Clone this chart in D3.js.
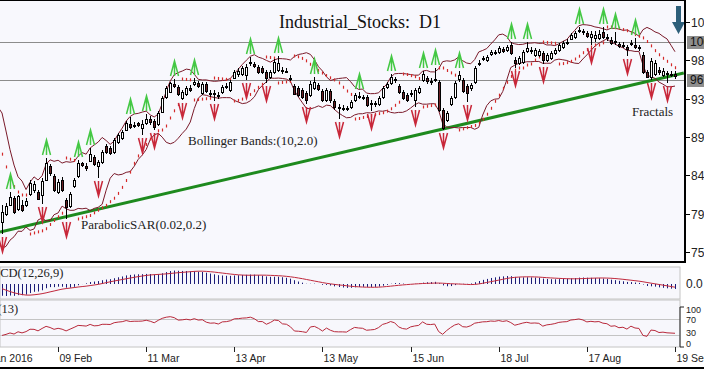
<!DOCTYPE html>
<html><head><meta charset="utf-8">
<script src="https://cdn.jsdelivr.net/npm/d3@7"></script>
<style>
html,body{margin:0;padding:0;background:#fff;overflow:hidden}
svg{display:block}
</style></head><body>
<svg id="c" width="704" height="370"></svg>
<script>
// ---------- DATA ----------
// pre-history bars (early Jan 2016), only used to warm up the indicators
const priorOpen  = [88.50,92.10,90.90,89.58,87.54,85.74,83.22,83.70,81.54,79.74];
const priorHigh  = [89.00,92.58,91.38,89.94,88.02,86.34,84.90,84.18,82.02,80.34];
const priorLow   = [87.60,90.18,88.74,86.94,85.14,82.50,82.14,80.58,78.90,78.06];
const priorClose = [88.00,90.54,89.34,87.30,85.74,82.98,83.94,81.18,79.38,78.18];

// visible daily bars, 20 Jan 2016 (bar 0) .. 19 Sep 2016 (bar 168)
const open = [78.90,79.86,80.94,81.78,80.46,80.94,80.94,82.26,82.74,82.50,
82.14,83.94,85.62,84.42,82.50,83.94,81.54,80.82,83.22,84.42,
85.98,85.62,86.22,86.70,85.62,86.10,88.02,87.78,87.30,88.50,
88.98,89.94,90.66,90.42,90.78,90.18,90.78,91.26,91.02,90.66,
92.10,93.90,94.50,95.46,95.10,93.78,94.26,94.98,95.46,95.58,
94.38,95.46,94.38,94.26,94.14,94.50,95.10,94.74,96.18,96.66,
96.66,96.54,98.10,97.86,97.50,97.38,96.90,96.30,96.90,97.14,
97.14,97.02,96.18,95.22,94.98,94.74,94.38,94.14,94.98,95.34,
94.62,93.54,94.62,93.42,92.70,92.46,92.58,92.70,93.54,94.02,
93.90,93.90,93.18,93.06,93.06,93.90,95.10,95.58,96.06,95.22,
94.50,94.14,94.26,93.54,94.50,95.94,96.18,95.82,96.06,95.70,
92.34,91.14,93.06,93.90,96.06,95.94,95.22,94.98,95.70,97.86,
98.46,98.34,99.06,99.30,99.30,99.66,99.54,100.14,98.34,97.98,
98.10,99.42,99.54,98.94,98.94,99.18,98.34,98.58,99.18,99.54,
99.90,100.38,100.86,101.10,101.82,101.82,101.58,101.10,100.98,100.98,
101.70,101.10,100.74,100.62,100.26,100.02,99.90,100.26,100.14,99.90,
98.94,96.90,96.30,96.66,97.14,96.54,96.78,96.66,96.66];
const high = [80.94,81.18,82.50,82.02,82.14,81.54,81.78,83.94,83.82,82.74,
84.18,86.58,85.86,84.66,84.06,84.30,81.78,82.50,84.18,86.34,
86.10,85.98,87.78,86.94,86.34,87.54,88.26,88.02,88.98,89.58,
89.94,91.02,91.50,90.90,90.90,91.14,91.86,91.62,91.26,92.22,
94.02,95.22,95.70,96.06,95.34,94.74,95.22,95.34,96.18,95.82,
95.70,95.70,94.74,94.74,94.50,95.34,95.58,95.94,97.14,97.38,
97.62,97.86,98.70,98.10,97.74,97.62,97.14,97.14,98.46,98.82,
97.50,97.38,96.54,95.46,95.22,94.98,94.62,95.82,96.30,95.58,
94.86,94.98,94.86,93.66,93.06,92.94,92.82,93.54,94.38,94.50,
94.14,94.14,93.54,93.42,94.02,95.22,95.70,96.66,96.30,95.46,
94.74,94.38,94.74,94.98,95.22,97.02,96.42,96.18,97.38,95.94,
92.58,92.22,94.02,95.82,97.02,96.18,95.46,95.58,97.62,98.34,
98.82,98.94,99.54,99.54,100.02,99.90,100.14,100.50,98.70,98.82,
99.54,100.50,99.90,99.78,99.66,99.42,99.18,99.42,99.78,100.38,
100.62,100.86,101.58,101.82,102.30,102.06,101.82,101.82,101.82,101.94,
102.30,101.46,101.10,101.70,100.50,100.50,100.14,100.74,100.98,100.14,
99.30,97.14,98.58,98.34,97.50,97.38,97.02,97.02,97.02];
const low = [77.46,79.62,80.82,79.86,80.22,80.10,80.70,82.02,82.38,81.54,
81.06,83.82,84.42,82.50,82.26,82.50,79.26,80.58,82.98,84.18,
85.50,85.02,86.10,85.62,84.18,85.86,87.06,86.94,87.06,88.26,
88.74,89.82,90.06,90.18,90.30,89.34,90.54,90.54,89.94,90.42,
91.98,93.66,94.38,94.98,94.02,93.54,94.02,94.50,95.22,94.98,
94.14,94.38,93.90,93.42,93.66,94.26,94.86,94.50,96.06,96.30,
96.42,95.94,97.62,97.38,96.66,96.66,95.58,96.06,96.66,96.90,
96.66,96.78,95.82,94.14,93.90,93.66,93.06,93.90,94.74,94.62,
93.30,93.30,93.18,92.34,91.26,92.22,92.22,92.46,93.30,93.66,
93.54,92.70,92.22,92.70,92.82,93.66,94.86,95.34,95.58,94.26,
93.54,93.30,93.90,92.70,94.26,95.70,95.46,95.34,95.70,92.10,
89.94,90.90,92.82,93.66,95.70,94.38,93.30,94.62,95.46,97.62,
98.22,98.10,98.82,98.94,99.06,99.18,99.30,98.94,97.38,97.74,
97.86,99.18,99.06,98.70,98.70,97.86,98.10,98.34,98.94,99.30,
99.66,100.14,100.74,100.86,101.58,101.34,100.98,100.14,100.50,100.74,
100.86,100.62,100.14,100.14,99.78,99.78,98.82,100.02,99.66,99.42,
96.66,96.18,95.94,96.42,96.54,96.30,95.58,96.30,96.06];
const close = [80.10,80.82,81.90,80.10,82.02,80.34,81.42,83.58,83.46,81.66,
83.82,85.98,84.78,82.74,83.70,82.74,80.70,82.26,83.94,85.98,
85.74,85.38,87.06,85.86,86.10,87.30,87.30,87.18,88.74,89.34,
89.70,90.78,90.30,90.54,90.54,90.66,91.26,90.90,90.30,91.98,
93.78,94.98,95.58,95.22,94.26,94.50,94.98,94.74,95.70,95.22,
95.46,94.62,94.26,94.38,94.02,95.10,95.22,95.70,96.90,97.02,
97.38,97.50,97.98,97.62,96.90,96.90,96.18,96.90,98.10,97.98,
97.02,96.90,96.06,94.26,94.14,93.90,93.54,95.46,95.70,94.86,
93.54,94.74,93.54,92.70,92.58,92.58,92.46,93.30,94.14,93.90,
93.78,92.94,93.06,93.18,93.78,94.98,95.46,96.30,95.94,94.50,
93.78,93.54,94.38,94.74,94.98,96.66,95.82,95.70,95.94,92.34,
90.18,91.98,93.78,95.58,96.54,94.62,94.38,95.34,97.38,97.98,
98.58,98.70,99.30,99.18,99.78,99.42,99.90,99.18,97.98,98.58,
99.30,99.78,99.42,99.54,99.42,98.34,98.94,99.18,99.54,100.14,
100.38,100.50,101.34,101.58,101.94,101.70,101.22,101.46,101.34,101.46,
101.10,100.98,100.38,100.50,100.02,100.14,99.66,100.38,99.90,99.78,
96.90,96.30,98.22,97.98,96.90,97.02,96.66,96.54,96.42];

// fractal bars
const upFractals   = [2,11,19,22,32,36,43,48,62,69,78,89,97,105,108,114,127,131,144,150,153,158];
const downFractals = [0,10,16,24,35,38,45,53,61,66,76,84,92,103,110,116,128,135,147,156,162,166];

// axis labels
const dateTickBars   = [-3.5,14,36,58,80,102,124,146,168];
const dateTickLabels = ["Jan 2016","09 Feb","11 Mar","13 Apr","13 May","15 Jun","18 Jul","17 Aug","19 Sep"];
const priceTicks      = [75.3,79.9,84.5,89.1,93.7,98.3,102.9];
const priceTickLabels = ["75","79","84","89","93","98","102"];
const levelValues = [100.50, 96.00];
const levelLabels = ["100.50","96.00"];
const trendBars   = [-0.5, 170.2];
const trendValues = [77.70, 96.78];
const rsiTicks = [100,70,30,0];

// ---------- INDICATORS ----------
const P = priorClose.length;
const C = priorClose.concat(close), Hh = priorHigh.concat(high), Ll = priorLow.concat(low);
const N = C.length;
function bb(per, k){
  const up=[], lo=[];
  for(let i=0;i<N;i++){
    if(i<per-1){up.push(null);lo.push(null);continue;}
    const w=C.slice(i-per+1,i+1), m=d3.mean(w);
    const sd=Math.sqrt(d3.mean(w,v=>(v-m)*(v-m)));
    up.push(m+k*sd); lo.push(m-k*sd);
  }
  return {up,lo};
}
const bands = bb(10,2.0);
function psar(step,max){
  const out=new Array(N); let up=false, af=step, ep=Ll[0], s=Hh[0]; out[0]=s;
  for(let i=1;i<N;i++){
    s = s + af*(ep-s);
    if(up){
      s=Math.min(s,Ll[i-1],Ll[Math.max(0,i-2)]);
      if(Ll[i]<s){up=false; s=ep; ep=Ll[i]; af=step;}
      else if(Hh[i]>ep){ep=Hh[i]; af=Math.min(af+step,max);}
    } else {
      s=Math.max(s,Hh[i-1],Hh[Math.max(0,i-2)]);
      if(Hh[i]>s){up=true; s=ep; ep=Hh[i]; af=step;}
      else if(Ll[i]<ep){ep=Ll[i]; af=Math.min(af+step,max);}
    }
    out[i]=s;
  }
  return out;
}
const sar = psar(0.02,0.2);
function ema(a,p){const k=2/(p+1); let e=a[0]; return a.map((v,i)=> i===0?e:(e=v*k+e*(1-k)));}
const e12=ema(C,12), e26=ema(C,26);
const macd=C.map((v,i)=>e12[i]-e26[i]);
const signal=macd.map((v,i)=> d3.mean(macd.slice(Math.max(0,i-8),i+1)));
function rsi(p){
  const out=[null]; let ag=0, al=0;
  for(let i=1;i<N;i++){
    const d=C[i]-C[i-1], g=Math.max(d,0), l=Math.max(-d,0);
    const n=Math.min(i,p);
    ag=(ag*(n-1)+g)/n; al=(al*(n-1)+l)/n;
    out.push(al===0?100:100-100/(1+ag/al));
  }
  return out;
}
const rsiV = rsi(13);

// ---------- DRAW ----------
const svg=d3.select("#c");
const x=d3.scaleLinear().domain([0,168]).range([2,675]);
const y=d3.scaleLinear().domain([74.1,105.54]).range([262,0]);
const cx=i=>Math.round(x(i));
const vis=d3.range(-1,169);

svg.append("rect").attr("x",0).attr("y",0).attr("width",685).attr("height",262).attr("fill","#f8f8fd");
svg.append("clipPath").attr("id","cm").append("rect").attr("x",0).attr("y",1).attr("width",684).attr("height",261);
const g=svg.append("g").attr("clip-path","url(#cm)");

// level lines
g.selectAll(".lvl").data(levelValues).join("line").attr("x1",0).attr("x2",684)
 .attr("y1",d=>Math.round(y(d))+0.5).attr("y2",d=>Math.round(y(d))+0.5).attr("stroke","#8c8c8c").attr("stroke-width",1);

// trendline
g.append("path").attr("d",d3.line()(trendBars.map((b,k)=>[x(b),y(trendValues[k])])))
 .attr("stroke","#1e8a1e").attr("stroke-width",3).attr("fill","none");

// Bollinger
["up","lo"].forEach(k=>{
  g.append("path").attr("d",d3.line()(vis.map(i=>[x(i),y(bands[k][i+P])])))
   .attr("stroke","#7a1a2a").attr("stroke-width",1).attr("fill","none");
});

// SAR
g.selectAll(".sar").data(vis).join("line")
 .attr("x1",i=>cx(i)+0.5).attr("x2",i=>cx(i)+0.5)
 .attr("y1",i=>y(sar[i+P])-1.5).attr("y2",i=>y(sar[i+P])+1.5)
 .attr("stroke","#d42a2a").attr("stroke-width",1.2);

// candles
const bars=d3.range(0,169);
g.selectAll(".wick").data(bars).join("line")
 .attr("x1",i=>cx(i)+0.5).attr("x2",i=>cx(i)+0.5)
 .attr("y1",i=>y(high[i])).attr("y2",i=>y(low[i])).attr("stroke","#000").attr("stroke-width",1);
g.selectAll(".body").data(bars).join("rect")
 .attr("x",i=>cx(i)-0.5).attr("width",2)
 .attr("y",i=>Math.round(y(Math.max(open[i],close[i])))+0.5)
 .attr("height",i=>Math.max(0.01,Math.round(Math.abs(y(open[i])-y(close[i])))))
 .attr("fill",i=>close[i]>=open[i]?"#ffffff":"#6a1f24").attr("stroke","#000").attr("stroke-width",1);

// fractals
g.selectAll(".fu").data(upFractals).join("path")
 .attr("d",i=>{const c=cx(i)+0.5,b=y(high[i])-3,t=b-15;
   return `M${c-4},${b}L${c},${t}L${c+4},${b}M${c},${t+2}L${c},${b}`;})
 .attr("stroke","#44c844").attr("stroke-width",1.5).attr("fill","none");
g.selectAll(".fd").data(downFractals).join("path")
 .attr("d",i=>{const c=cx(i)+0.5,t=y(low[i])+3,b=t+15;
   return `M${c-4},${t}L${c},${b}L${c+4},${t}M${c},${b-2}L${c},${t}`;})
 .attr("stroke","#c8283a").attr("stroke-width",1.5).attr("fill","none");

// down arrow (signal)
svg.append("path").attr("d","M676,6H681V22H685L678.5,34L672,22H676Z").attr("fill","#2d5f7a");

// frame main
svg.append("line").attr("x1",0).attr("x2",686).attr("y1",0.5).attr("y2",0.5).attr("stroke","#000");
svg.append("line").attr("x1",0).attr("x2",686).attr("y1",262).attr("y2",262).attr("stroke","#000").attr("stroke-width",2);
svg.append("line").attr("x1",685).attr("x2",685).attr("y1",0).attr("y2",263).attr("stroke","#000").attr("stroke-width",2);

// texts
const serif='"Liberation Serif","Times New Roman",serif', sans='"Liberation Sans",Arial,sans-serif';
svg.append("text").attr("x",279).attr("y",28).attr("font-family",serif).attr("font-size",18)
 .attr("fill","#111").style("white-space","pre").text("Industrial_Stocks:  D1");
svg.append("text").attr("x",188).attr("y",145).attr("font-family",serif).attr("font-size",13).attr("fill","#222").text("Bollinger Bands:(10,2.0)");
svg.append("text").attr("x",81).attr("y",229).attr("font-family",serif).attr("font-size",13).attr("fill","#222").text("ParabolicSAR(0.02,0.2)");
svg.append("text").attr("x",632).attr("y",116).attr("font-family",serif).attr("font-size",13).attr("fill","#222").text("Fractals");

// right price axis
priceTicks.forEach((v,k)=>{
  const yy=Math.round(y(v))+0.5;
  svg.append("line").attr("x1",686).attr("x2",690).attr("y1",yy).attr("y2",yy).attr("stroke","#000");
  svg.append("text").attr("x",691).attr("y",yy+4).attr("font-family",sans).attr("font-size",12).attr("fill","#222").text(priceTickLabels[k]);
});
levelValues.forEach((v,k)=>{
  const yy=Math.round(y(v));
  svg.append("rect").attr("x",687).attr("y",yy-6).attr("width",17).attr("height",13).attr("fill","#8e8e8e");
  svg.append("text").attr("x",690).attr("y",yy+4).attr("font-family",sans).attr("font-size",12).attr("fill","#111").text(levelLabels[k]);
});

// ---------- MACD panel ----------
const mTop=267,mBot=299;
svg.append("rect").attr("x",0).attr("y",mTop).attr("width",680).attr("height",mBot-mTop).attr("fill","#f7f7fc").attr("stroke","#c4c4c4");
const mvis=bars.map(i=>macd[i+P]);
const mMax=d3.max(mvis), mMin=d3.min(mvis);
const kpx=Math.min(14/mMax, 12/Math.abs(mMin));
const ym=d3.scaleLinear().domain([0,1]).range([284,284-kpx]);
svg.selectAll(".mh").data(bars).join("line")
 .attr("x1",i=>cx(i)+0.5).attr("x2",i=>cx(i)+0.5).attr("y1",ym(0)).attr("y2",i=>ym(macd[i+P]))
 .attr("stroke","#1c1c78").attr("stroke-width",1);
svg.append("path").attr("d",d3.line()(bars.map(i=>[x(i),ym(signal[i+P])])))
 .attr("stroke","#c0283c").attr("stroke-width",1).attr("fill","none");
svg.append("text").attr("x",-20).attr("y",277).attr("font-family",serif).attr("font-size",12.5).attr("fill","#222").text("MACD(12,26,9)");
svg.append("text").attr("x",686).attr("y",288).attr("font-family",sans).attr("font-size",12).attr("fill","#222").text("0.0");

// ---------- RSI panel ----------
const rTop=300,rBot=347;
svg.append("rect").attr("x",0).attr("y",rTop).attr("width",680).attr("height",rBot-rTop).attr("fill","#f7f7fc").attr("stroke","#c4c4c4");
const yr=d3.scaleLinear().domain([0,100]).range([347,307]);
[70,30].forEach(v=>svg.append("line").attr("x1",0).attr("x2",680).attr("y1",Math.round(yr(v))+0.5).attr("y2",Math.round(yr(v))+0.5).attr("stroke","#c4c4c4"));
svg.append("path").attr("d",d3.line()(bars.map(i=>[x(i),yr(rsiV[i+P])])))
 .attr("stroke","#b8283a").attr("stroke-width",1).attr("fill","none");
svg.append("text").attr("x",-22).attr("y",313).attr("font-family",serif).attr("font-size",12.5).attr("fill","#222").text("RSI(13)");
svg.append("path").attr("d",`M684,${yr(100)}H680V${yr(0)}H684`).attr("stroke","#222").attr("fill","none");
const rsiLabelY = {100:313, 70:323, 30:335.5, 0:347};
rsiTicks.forEach(v=>{
  svg.append("text").attr("x",686).attr("y",rsiLabelY[v]).attr("font-family",sans).attr("font-size",9).attr("fill","#222").text(String(v));
});

// ---------- date axis ----------
dateTickBars.forEach((b,k)=>{
  const xx=Math.round(x(b))+0.5;
  svg.append("line").attr("x1",xx).attr("x2",xx).attr("y1",347).attr("y2",352).attr("stroke","#222");
  svg.append("text").attr("x",xx+1).attr("y",362).attr("font-family",sans).attr("font-size",10.5).attr("fill","#222").text(dateTickLabels[k]);
});
svg.append("line").attr("x1",0).attr("x2",704).attr("y1",368).attr("y2",368).attr("stroke","#000").attr("stroke-width",2);
</script>
</body></html>
